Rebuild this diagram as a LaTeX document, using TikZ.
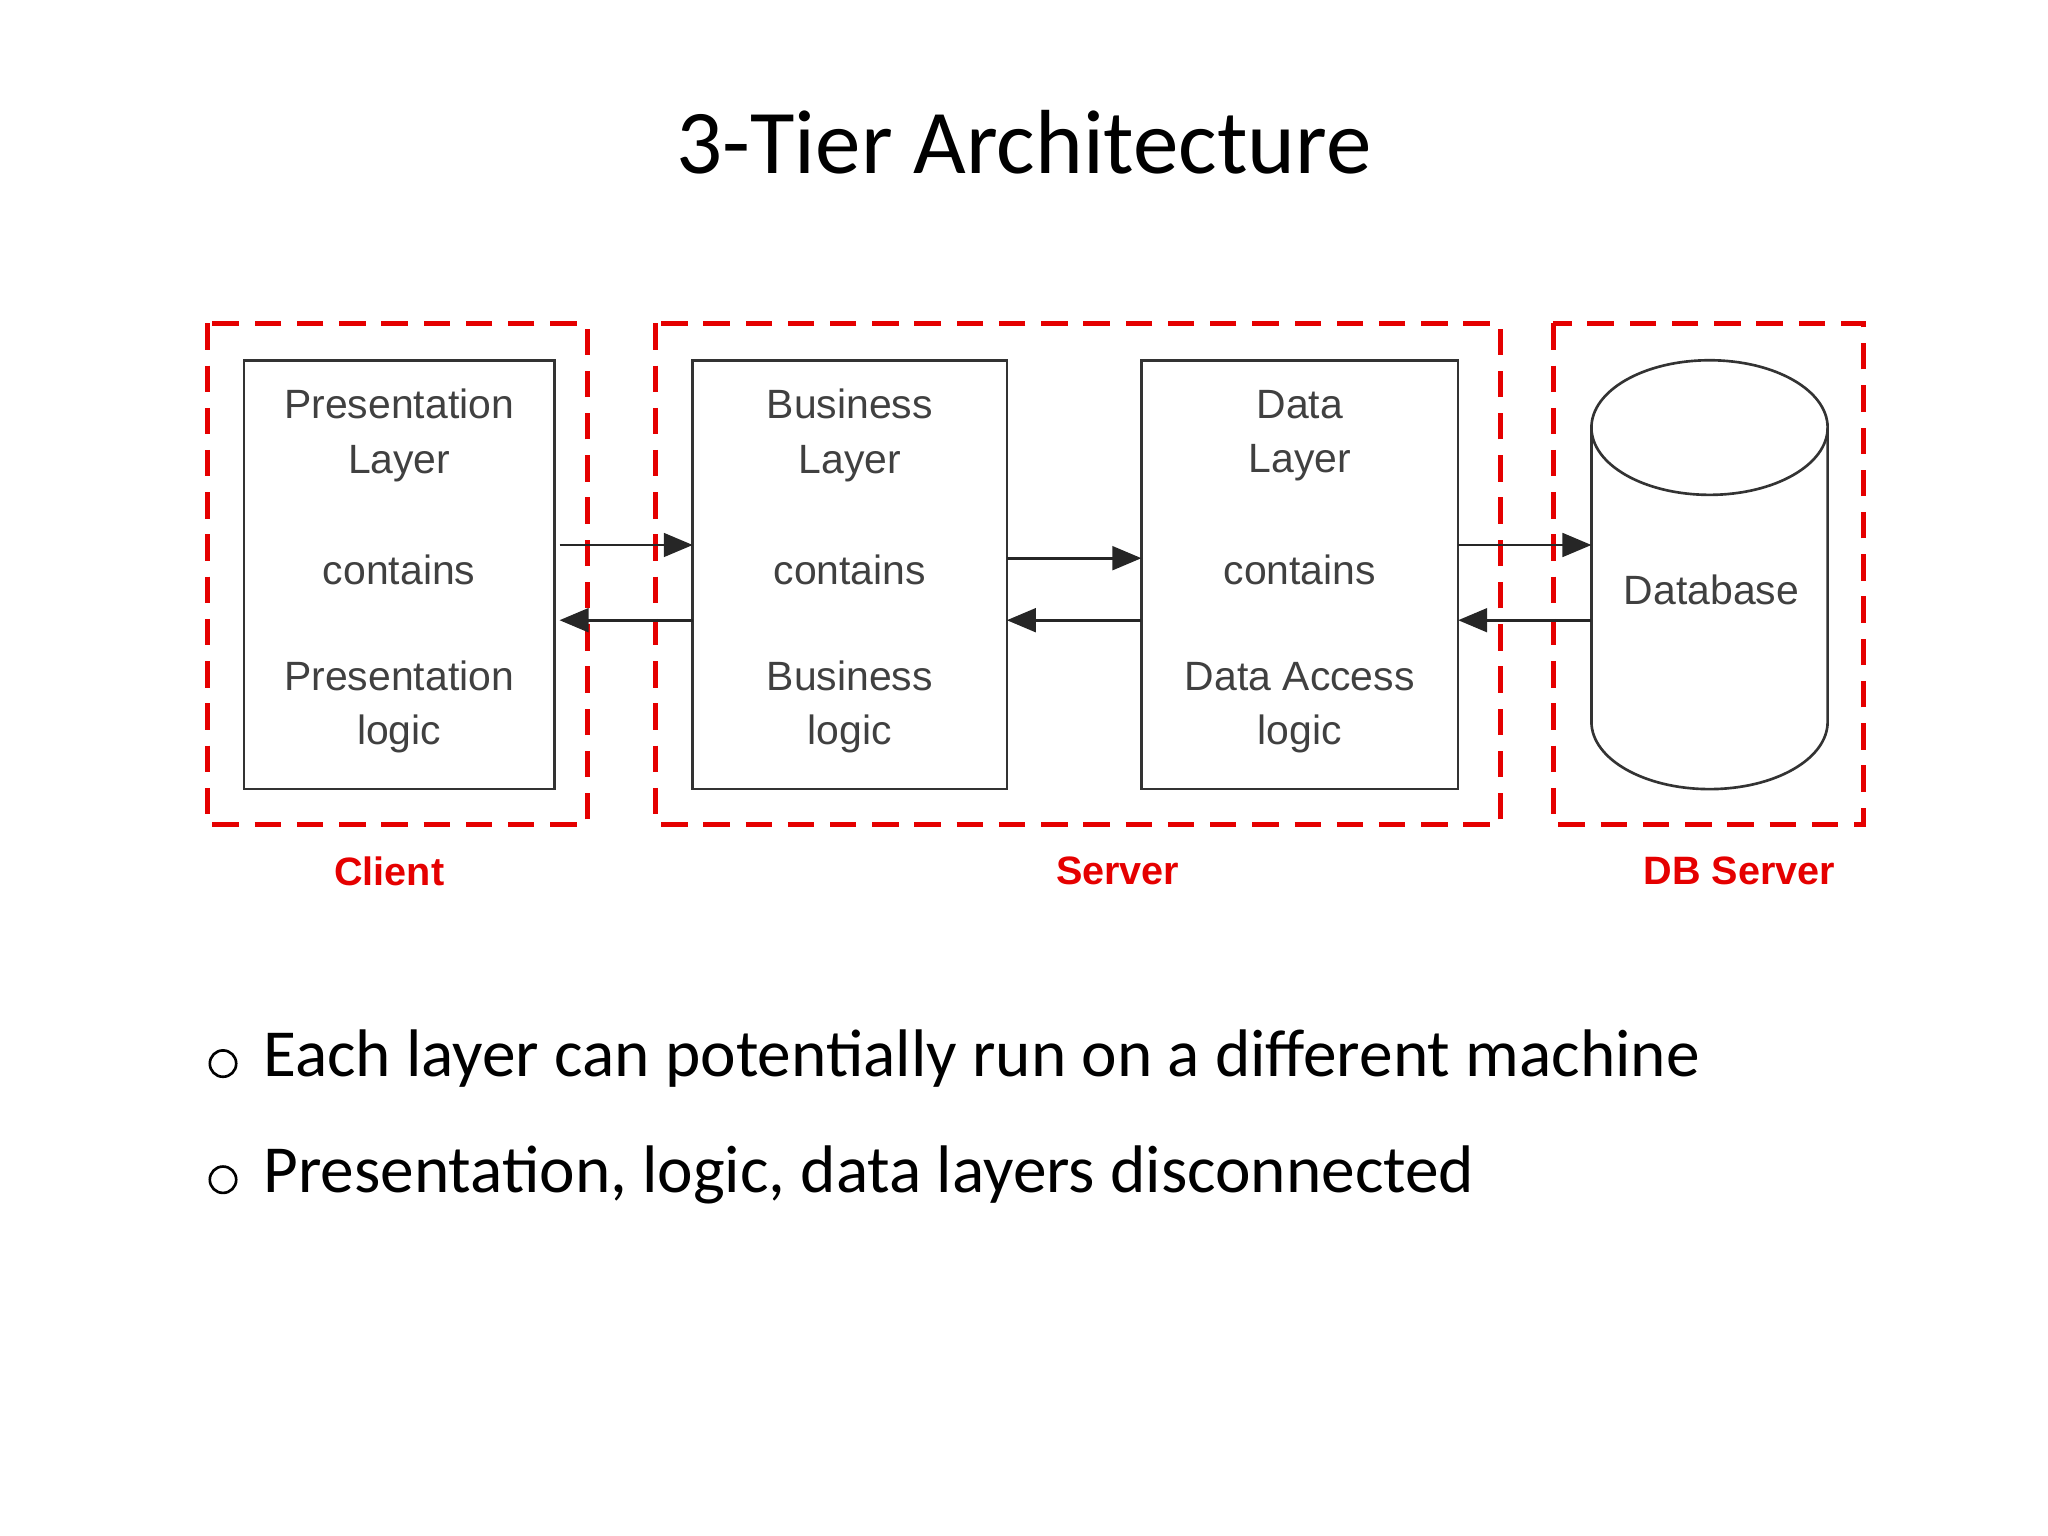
\documentclass[tikz,border=0pt]{standalone}
\usepackage{fontspec}
\setmainfont{Carlito}
\newfontfamily\boxfont{Liberation Sans}
\usetikzlibrary{arrows.meta}
\begin{document}
\begin{tikzpicture}[x=1pt,y=-1pt,
  grp/.style={draw=red!90!black,line width=4pt,dash pattern=on 20pt off 12pt},
  lay/.style={draw=black!80,line width=2pt},
  txt/.style={font=\boxfont\fontsize{31}{41}\selectfont,text=black!75,align=center},
  lbl/.style={font=\boxfont\bfseries\fontsize{30}{36}\selectfont,text=red!90!black},
  arr/.style={line width=2pt,draw=black!85,-{Triangle[length=22pt,width=18pt]}},
  bul/.style={font=\fontsize{51}{60}\selectfont,anchor=west},
  dot/.style={circle,draw=black,line width=2pt,minimum size=20pt,inner sep=0pt}]
\useasboundingbox (0,0) rectangle (1552,1164);
\node[font=\fontsize{69}{80}\selectfont] (title) at (776,108) {3-Tier Architecture};
\draw[grp] (157,245) rectangle (445,625);
\draw[grp] (497,245) rectangle (1137,625);
\draw[grp] (1177,245) rectangle (1412,625);
\node[lay,minimum width=235pt,minimum height=325pt] (P) at (302.5,435.5) {};
\node[lay,minimum width=238pt,minimum height=325pt] (B) at (644,435.5) {};
\node[lay,minimum width=240pt,minimum height=325pt] (D) at (985,435.5) {};
\foreach \n/\x/\a/\b in {P/302.5/Presentation/Presentation,B/644/Business/Business,D/985/Data/Data Access}{
  \node[txt] at (\x,330) {\a\\Layer};
  \node[txt] at (\x,432) {contains};
  \node[txt] at (\x,536) {\b\\logic};
}
\draw[lay,fill=white] (1206,324) -- (1206,547) arc[start angle=180,end angle=0,x radius=89.5,y radius=51] -- (1385,324);
\draw[lay] (1295.5,324) ellipse[x radius=89.5,y radius=51];
\node[txt] (DB) at (1297,447) {Database};
\coordinate (a1) at (424,413); \coordinate (a2) at (525,413);
\coordinate (b1) at (525,470); \coordinate (b2) at (424,470);
\coordinate (c1) at (763,423); \coordinate (c2) at (865,423);
\coordinate (d1) at (865,470); \coordinate (d2) at (763,470);
\coordinate (e1) at (1105,413); \coordinate (e2) at (1206,413);
\coordinate (f1) at (1206,470); \coordinate (f2) at (1105,470);
\draw[arr] (a1) -- (a2);
\draw[arr] (b1) -- (b2);
\draw[arr] (c1) -- (c2);
\draw[arr] (d1) -- (d2);
\draw[arr] (e1) -- (e2);
\draw[arr] (f1) -- (f2);
\node[lbl] (c) at (295,660) {Client};
\node[lbl] (s) at (847,660) {Server};
\node[lbl] (d) at (1318,660) {DB Server};
\node[dot] (o1) at (169,806) {};
\node[dot] (o2) at (169,894) {};
\node[bul] (b1n) at (196,802) {Each layer can potentially run on a different machine};
\node[bul] (b2n) at (196,890) {Presentation, logic, data layers disconnected};
\end{tikzpicture}
\end{document}
